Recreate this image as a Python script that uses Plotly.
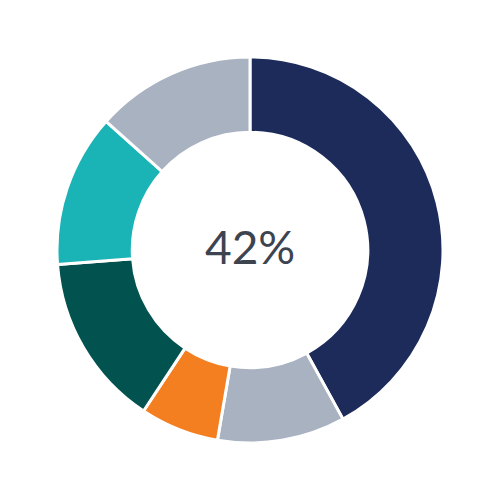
import plotly.graph_objects as go

# slice shares, clockwise from 12 o'clock
labels = ['A', 'B', 'C', 'D', 'E', 'F']
values = [42, 10.7, 6.6, 14.5, 12.8, 13.4]
colors = ['#1c2b5a', '#a8b2c1', '#f47f20', '#02534f', '#1ab3b6', '#a8b2c1']
center_text = '42%'

fig = go.Figure(go.Pie(
    labels=labels,
    values=values,
    hole=0.61,
    sort=False,
    direction='clockwise',
    rotation=0,
    marker=dict(colors=colors, line=dict(color='white', width=3)),
    textinfo='none',
    hoverinfo='label+percent',
))

fig.add_annotation(text=center_text, x=0.5, y=0.5, xref='paper', yref='paper',
                   yshift=4, showarrow=False,
                   font=dict(family='Lato', size=46, color='#3d4450'))

# page body adds ~8px offset, so shift the domain up/left
fig.update_layout(
    width=500, height=500,
    margin=dict(l=49, r=65, t=49, b=65),
    showlegend=False,
    paper_bgcolor='white',
    plot_bgcolor='white',
)

fig.write_html("out.html")
